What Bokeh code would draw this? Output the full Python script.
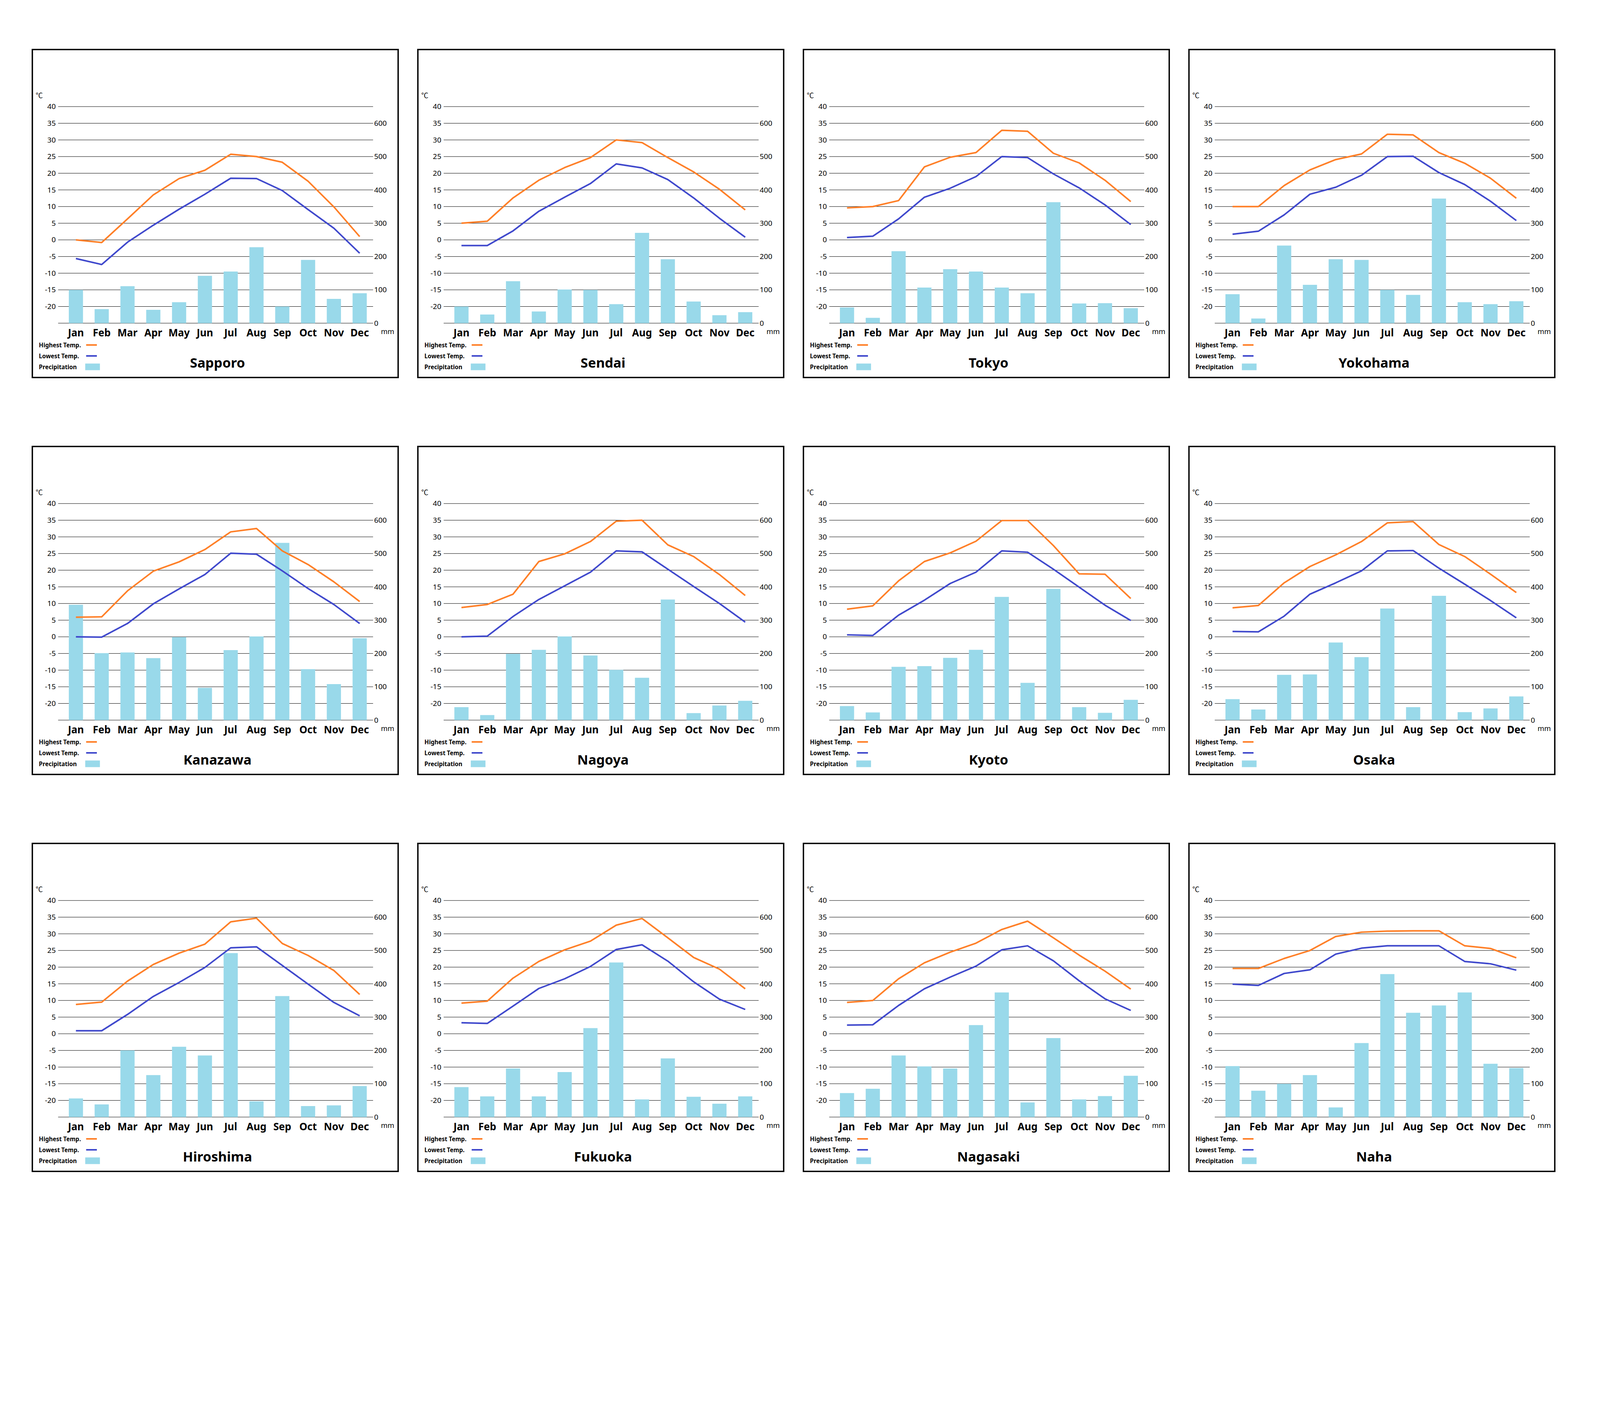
from bokeh.plotting import figure
from bokeh.models import Range1d, Legend, LegendItem, Spacer
from bokeh.layouts import row, column
from bokeh.embed import file_html
from bokeh.resources import INLINE
from bokeh.core.properties import value

months = ["Jan", "Feb", "Mar", "Apr", "May", "Jun", "Jul", "Aug", "Sep", "Oct", "Nov", "Dec"]
temp_ticks = [-25, -20, -15, -10, -5, 0, 5, 10, 15, 20, 25, 30, 35, 40]
temp_labels = ["", "-20", "-15", "-10", "-5", "0", "5", "10", "15", "20", "25", "30", "35", "40"]
mm_ticks = [0, 100, 200, 300, 400, 500, 600]
mm_labels = ["0", "100", "200", "300", "400", "500", "600"]
legend_labels = ["Highest Temp.", "Lowest Temp.", "Precipitation"]

cities = ["Sapporo", "Sendai", "Tokyo", "Yokohama",
          "Kanazawa", "Nagoya", "Kyoto", "Osaka",
          "Hiroshima", "Fukuoka", "Nagasaki", "Naha"]

sapporo_high = [0.0, -0.8, 6.3, 13.5, 18.4, 20.9, 25.7, 25.0, 23.3, 17.6, 9.9, 1.0]
sapporo_low = [-5.6, -7.4, -0.7, 4.4, 9.2, 13.7, 18.5, 18.4, 14.8, 9.1, 3.5, -4.0]
sapporo_precip = [100, 42, 111, 40, 63, 142, 155, 228, 50, 190, 73, 90]

sendai_high = [5.0, 5.6, 12.6, 17.9, 21.7, 24.7, 30.0, 29.2, 24.7, 20.4, 15.2, 9.0]
sendai_low = [-1.7, -1.7, 2.7, 8.6, 12.8, 16.9, 22.8, 21.6, 18.1, 12.6, 6.5, 0.8]
sendai_precip = [50, 26, 126, 35, 101, 100, 57, 271, 192, 65, 24, 33]

tokyo_high = [9.6, 10.0, 11.8, 21.9, 24.8, 26.2, 32.9, 32.6, 26.0, 23.1, 17.9, 11.5]
tokyo_low = [0.7, 1.1, 6.3, 12.8, 15.5, 19.0, 25.0, 24.7, 19.8, 15.6, 10.5, 4.6]
tokyo_precip = [47, 16, 216, 107, 162, 155, 107, 90, 363, 59, 60, 45]

yokohama_high = [10.0, 10.0, 16.3, 21.0, 24.1, 25.8, 31.7, 31.5, 26.2, 23.0, 18.5, 12.5]
yokohama_low = [1.7, 2.6, 7.5, 13.7, 15.8, 19.4, 25.0, 25.1, 20.2, 16.6, 11.6, 5.8]
yokohama_precip = [87, 14, 233, 115, 192, 190, 100, 85, 374, 63, 57, 66]

kanazawa_high = [5.9, 6.0, 13.8, 19.7, 22.5, 26.2, 31.5, 32.5, 25.8, 21.7, 16.5, 10.6]
kanazawa_low = [0.0, -0.1, 4.0, 9.9, 14.4, 18.7, 25.1, 24.8, 19.8, 14.5, 9.7, 4.0]
kanazawa_precip = [346, 201, 203, 186, 249, 97, 210, 251, 532, 153, 108, 246]

nagoya_high = [8.8, 9.7, 12.8, 22.6, 24.9, 28.6, 34.7, 35.0, 27.6, 24.1, 18.7, 12.4]
nagoya_low = [0.0, 0.2, 6.1, 11.2, 15.3, 19.4, 25.8, 25.5, 20.3, 15.1, 10.0, 4.4]
nagoya_precip = [39, 15, 199, 211, 251, 194, 151, 127, 362, 21, 44, 58]

kyoto_high = [8.3, 9.3, 16.8, 22.6, 25.2, 28.7, 34.9, 34.9, 27.4, 18.9, 18.8, 11.5]
kyoto_low = [0.6, 0.4, 6.5, 11.0, 16.0, 19.4, 25.8, 25.4, 20.3, 14.9, 9.5, 4.9]
kyoto_precip = [42, 23, 160, 162, 187, 211, 370, 112, 394, 39, 22, 61]

osaka_high = [8.7, 9.4, 16.2, 21.1, 24.6, 28.6, 34.2, 34.6, 27.7, 24.1, 18.8, 13.3]
osaka_low = [1.6, 1.5, 6.2, 12.8, 16.2, 19.8, 25.8, 25.9, 20.6, 15.8, 10.9, 5.7]
osaka_precip = [63, 32, 136, 137, 233, 189, 335, 39, 373, 24, 35, 71]

hiroshima_high = [8.8, 9.5, 15.8, 20.8, 24.2, 26.9, 33.6, 34.7, 27.1, 23.5, 19.0, 11.8]
hiroshima_low = [0.9, 0.9, 5.8, 11.2, 15.4, 19.9, 25.8, 26.1, 20.5, 14.9, 9.4, 5.4]
hiroshima_precip = [56, 38, 200, 126, 211, 185, 492, 47, 363, 33, 35, 93]

fukuoka_high = [9.2, 9.8, 16.7, 21.7, 25.2, 27.8, 32.6, 34.6, 28.8, 22.9, 19.4, 13.5]
fukuoka_low = [3.3, 3.1, 8.3, 13.6, 16.5, 20.2, 25.3, 26.7, 21.8, 15.6, 10.4, 7.3]
fukuoka_precip = [90, 62, 146, 62, 135, 267, 464, 53, 176, 61, 40, 62]

nagasaki_high = [9.4, 10.0, 16.5, 21.3, 24.5, 27.2, 31.3, 33.8, 28.8, 23.6, 18.8, 13.4]
nagasaki_low = [2.6, 2.7, 8.5, 13.5, 17.0, 20.3, 25.2, 26.4, 21.9, 15.9, 10.5, 7.0]
nagasaki_precip = [72, 85, 185, 152, 146, 276, 374, 44, 237, 53, 63, 124]

naha_high = [19.6, 19.6, 22.6, 25.0, 29.2, 30.5, 30.8, 30.9, 30.9, 26.4, 25.6, 22.8]
naha_low = [14.9, 14.5, 18.1, 19.2, 23.9, 25.7, 26.4, 26.4, 26.4, 21.7, 21.0, 19.1]
naha_precip = [153, 79, 100, 126, 29, 222, 429, 313, 335, 374, 160, 147]

highs = [sapporo_high, sendai_high, tokyo_high, yokohama_high, kanazawa_high, nagoya_high,
         kyoto_high, osaka_high, hiroshima_high, fukuoka_high, nagasaki_high, naha_high]
lows = [sapporo_low, sendai_low, tokyo_low, yokohama_low, kanazawa_low, nagoya_low,
        kyoto_low, osaka_low, hiroshima_low, fukuoka_low, nagasaki_low, naha_low]
precips = [sapporo_precip, sendai_precip, tokyo_precip, yokohama_precip, kanazawa_precip,
           nagoya_precip, kyoto_precip, osaka_precip, hiroshima_precip, fukuoka_precip,
           nagasaki_precip, naha_precip]

HIGH_COLOR = "#FF7F27"
LOW_COLOR = "#3F48CC"
BAR_COLOR = "#99D9EA"
FONT = "Noto Sans"

# CSS px = reference px * S
S = 4096 / 4752.0


def fs(v):
    return value("%.2fpx" % (v * S))


# panel geometry in reference px
PW_REF, PH_REF = 1090, 978
PW, PH = round(PW_REF * S), round(PH_REF * S)
AL, AR = 78, 1013          # plot-area left/right, from panel left
AB, AT = 161, 810          # plot-area bottom/top, from panel bottom
X0, X1 = -0.69, 11.52      # data x at plot-area left/right
Y0, Y1 = -25.3, 40.3       # data temperature at plot-area bottom/top
PPX = (AR - AL) / (X1 - X0)
PPY = (AT - AB) / (Y1 - Y0)


def X(px):
    return X0 + (px - AL) / PPX


def Y(py):
    return Y0 + (py - AB) / PPY


def MM(py):
    return (Y(py) + 25.0) * 10.0


def make_panel(name, high, low, precip):
    xs = list(range(12))
    p = figure(width=PW, height=PH, x_range=Range1d(X(0), X(PW_REF)), y_range=Range1d(Y(0), Y(PH_REF)),
               output_backend="svg", toolbar_location=None, title=None,
               x_axis_location=None, y_axis_location=None,
               min_border=0, min_border_left=0, min_border_right=0,
               min_border_top=0, min_border_bottom=0,
               background_fill_color="white", border_fill_color="white",
               outline_line_color="black", outline_line_width=7 * S)
    p.grid.visible = False
    p.extra_y_ranges = {"mm": Range1d(MM(0), MM(PH_REF))}

    # horizontal grid lines at the temperature ticks, spanning the plot area
    p.segment(x0=X0, x1=X1, y0=temp_ticks, y1=temp_ticks, line_color="black", line_width=1)

    bars = p.vbar(x=xs, top=precip, bottom=0, width=0.55, fill_color=BAR_COLOR,
                  line_color=None, y_range_name="mm")
    r_high = p.line(xs, high, line_color=HIGH_COLOR, line_width=4.6 * S)
    r_low = p.line(xs, low, line_color=LOW_COLOR, line_width=4.6 * S)

    # left temperature scale
    p.text(x=X(AL - 7), y=temp_ticks, text=temp_labels, text_font=value(FONT),
           text_font_size=fs(22), text_color="black", text_align="right", text_baseline="middle")
    # right precipitation scale
    p.text(x=X(AR + 3), y=mm_ticks, text=mm_labels, text_font=value(FONT),
           text_font_size=fs(22), text_color="black", text_align="left", text_baseline="middle",
           y_range_name="mm")
    # month labels
    p.text(x=xs, y=Y(136), text=months, text_font=value(FONT), text_font_style="bold",
           text_font_size=fs(30), text_color="black", text_align="center", text_baseline="middle")
    # units
    p.text(x=X(22), y=Y(842), text=["℃"], text_font=value("Noto Sans CJK JP"),
           text_font_size=fs(21), text_color="black", text_align="center", text_baseline="middle")
    p.text(x=X(1056), y=Y(140), text=["mm"], text_font=value(FONT),
           text_font_size=fs(21), text_color="black", text_align="center", text_baseline="middle")
    # legend texts
    p.text(x=X(21), y=[Y(99), Y(66.5), Y(34)], text=legend_labels, text_font=value(FONT),
           text_font_style="bold", text_font_size=fs(17.5), text_color="black",
           text_align="left", text_baseline="middle")
    # city name
    p.text(x=X(PW_REF / 2.0 + 6), y=Y(48), text=[name], text_font=value(FONT), text_font_style="bold",
           text_font_size=fs(40), text_color="black", text_align="center", text_baseline="middle")

    # legend swatches (right of the legend texts)
    leg_lines = Legend(items=[LegendItem(label=" ", renderers=[r_high]),
                              LegendItem(label=" ", renderers=[r_low])],
                       location=(161 * S, 56.5 * S), orientation="vertical",
                       glyph_width=round(33 * S), glyph_height=round(20 * S),
                       label_width=0, label_height=round(20 * S),
                       label_standoff=0, label_text_font_size="1px", spacing=round(12.5 * S),
                       padding=0, margin=0, border_line_color=None, background_fill_alpha=0)
    leg_bar = Legend(items=[LegendItem(label=" ", renderers=[bars])],
                     location=(153.6 * S, 22.6 * S), orientation="vertical",
                     glyph_width=round(54 * S), glyph_height=round(24 * S),
                     label_width=0, label_height=round(24 * S),
                     label_standoff=0, label_text_font_size="1px", spacing=0,
                     padding=0, margin=0, border_line_color=None, background_fill_alpha=0)
    p.add_layout(leg_lines, "center")
    p.add_layout(leg_bar, "center")
    return p


panels = [make_panel(c, h, l, pr) for c, h, l, pr in zip(cities, highs, lows, precips)]

GAP_X = round(55 * S)
GAP_Y = round(201 * S)
rows = [Spacer(width=10, height=round(145 * S))]
for r in range(3):
    items = [Spacer(width=round(94 * S), height=PH)]
    for c in range(4):
        if c > 0:
            items.append(Spacer(width=GAP_X, height=PH))
        items.append(panels[r * 4 + c])
    rows.append(row(*items))
    if r < 2:
        rows.append(Spacer(width=10, height=GAP_Y))

p = column(*rows)

open("out.html", "w").write(file_html(p, INLINE))
